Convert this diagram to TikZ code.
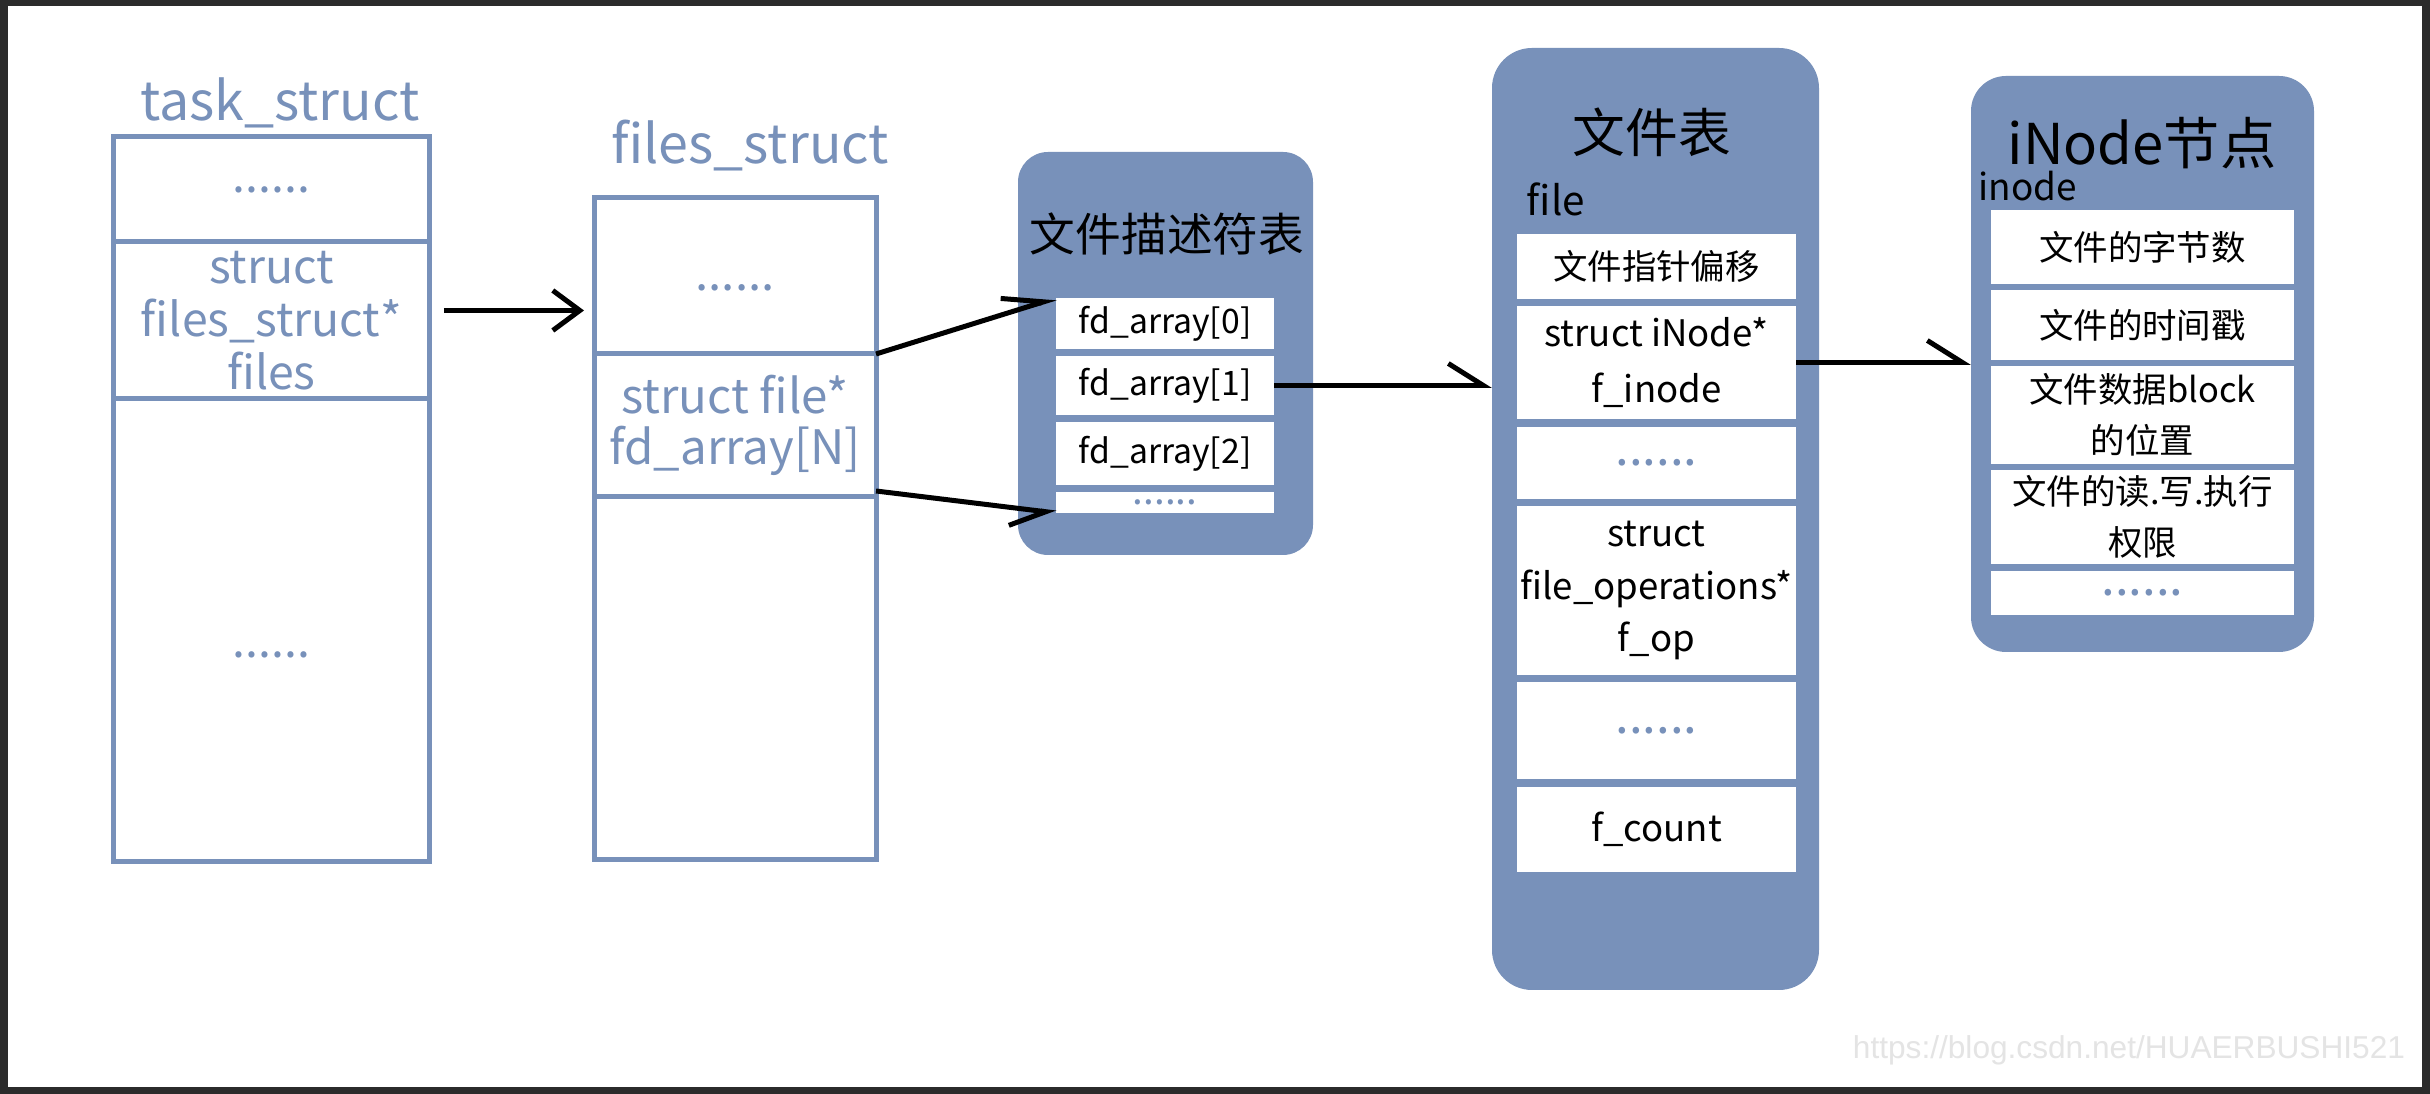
\documentclass[tikz,border=0pt]{standalone}
\usepackage{fontspec}
\setmainfont{Noto Sans CJK SC}
\newfontfamily\urlfont{Liberation Sans}
\usetikzlibrary{arrows.meta,positioning}
\definecolor{Slate}{HTML}{7891BA}
\definecolor{Frame}{HTML}{2B2B2B}
\definecolor{Mark}{HTML}{E4E4E4}
\newcommand{\fsz}[2]{\fontsize{#1pt}{#2pt}\selectfont}

\begin{document}
\begin{tikzpicture}[
  x=0.1mm,y=-0.1mm,
  every node/.style={inner sep=0pt,outer sep=0pt,align=center},
  heading/.style={text=Slate,font=\fsz{15.3}{16}},
  rec/.style={draw=Slate,line width=0.5mm,text=Slate,minimum width=31.7mm,font=\fsz{13.2}{15}},
  frec/.style={rec,minimum width=28.2mm,font=\fsz{13.5}{14.5}},
  panel/.style={fill=Slate,rounded corners=#1,anchor=north west},
  cell/.style={fill=white,anchor=north west,font=\fsz{10.4}{16}},
  fdcell/.style={cell,minimum width=21.8mm,font=\fsz{9.6}{12}},
  filecell/.style={cell,minimum width=27.9mm},
  inocell/.style={cell,minimum width=30.3mm,font=\fsz{9.8}{14.5}},
  dots/.style={text=Slate,font=\fsz{14}{14}},
  arr/.style={line width=0.5mm,-{Straight Barb[length=2.7mm,width=4mm]}},
  arrL/.style={line width=0.5mm,-{Straight Barb[left,length=4mm,width=3.2mm]}},
  arrR/.style={line width=0.5mm,-{Straight Barb[right,length=3.5mm,width=3.6mm]}},
  arrH/.style={line width=0.5mm,-{Straight Barb[left,length=3.5mm,width=4.4mm]}}
]
% frame
\fill[Frame] (0,0) rectangle (2430,1094);
\fill[white] (8,6) rectangle (2422,1087);

% task_struct
\node[heading] (tTitle) at (280,103) {task\_struct};
\node[rec,minimum height=10.5mm,anchor=north west] (tTop) at (113,137) {......};
\node[rec,below=0pt of tTop,minimum height=15.7mm] (tMid) {struct\\files\_struct*\\files};
\node[rec,below=0pt of tMid,minimum height=46.3mm,text height=5.5mm] (tLow) {......};

% files_struct
\node[heading] (fTitle) at (750,146) {files\_struct};
\node[frec,minimum height=15.6mm,anchor=north west,text height=3mm] (fTop) at (594,198) {......};
\node[frec,below=0pt of fTop,minimum height=14.3mm] (fMid) {struct file*\\fd\_array[N]};
\node[frec,below=0pt of fMid,minimum height=36.3mm] (fLow) {};

% fd table
\node[panel=3mm,minimum width=29.5mm,minimum height=40.3mm] (fdPanel) at (1018,152) {};
\node[font=\fsz{13}{14}] (fdTitle) at (1167,234) {文件描述符表};
\node[fdcell,minimum height=5.1mm] (fd0) at (1056,298) {fd\_array[0]};
\node[fdcell,below=0.7mm of fd0,minimum height=5.9mm] (fd1) {fd\_array[1]};
\node[fdcell,below=0.7mm of fd1,minimum height=6.3mm] (fd2) {fd\_array[2]};
\node[fdcell,below=0.7mm of fd2,minimum height=2.1mm,dots,font=\fsz{11}{11}] (fdDots) {......};

% file table
\node[panel=4mm,minimum width=32.7mm,minimum height=94.2mm] (filePanel) at (1492,48) {};
\node[font=\fsz{15}{16}] (fileTitle) at (1652,132) {文件表};
\node[font=\fsz{11.5}{12}] (fileTag) at (1556,199) {file};
\node[filecell,minimum height=6.5mm,font=\fsz{9.8}{12}] (fr1) at (1517,234) {文件指针偏移};
\node[filecell,below=0.7mm of fr1,minimum height=11.3mm] (fr2) {struct iNode*\\f\_inode};
\node[filecell,below=0.8mm of fr2,minimum height=7.2mm,dots] (fr3) {......};
\node[filecell,below=0.7mm of fr3,minimum height=16.9mm,font=\fsz{10.4}{15}] (fr4) {struct\\file\_operations*\\f\_op};
\node[filecell,below=0.7mm of fr4,minimum height=9.7mm,dots] (fr5) {......};
\node[filecell,below=0.8mm of fr5,minimum height=8.5mm] (fr6) {f\_count};

% inode
\node[panel=3.5mm,minimum width=34.3mm,minimum height=57.6mm] (inodePanel) at (1971,76) {};
\node[font=\fsz{16}{17}] (inodeTitle) at (2142,143) {iNode节点};
\node[font=\fsz{10.5}{11}] (inodeTag) at (2028,186) {inode};
\node[inocell,minimum height=7.4mm] (ir1) at (1991,210) {文件的字节数};
\node[inocell,below=0.6mm of ir1,minimum height=7mm] (ir2) {文件的时间戳};
\node[inocell,below=0.6mm of ir2,minimum height=9.8mm] (ir3) {文件数据block\\的位置};
\node[inocell,below=0.6mm of ir3,minimum height=9.4mm] (ir4) {文件的读.写.执行\\权限};
\node[inocell,below=0.7mm of ir4,minimum height=4.4mm,dots] (ir5) {......};

% watermark
\node[anchor=east,text=Mark,font=\urlfont\fsz{9}{10}] (mark) at (2405,1050) {https://blog.csdn.net/HUAERBUSHI521};

% pointers
\draw[arr] ([xshift=1.4mm,yshift=1mm]tMid.east) -- ([xshift=-1mm,yshift=1mm]tMid.east -| fTop.west);
\draw[arrL] (fMid.north east) -- (fd0.north west);
\draw[arrR] ([yshift=0.6mm]fMid.south east) -- (fdDots.south west);
\draw[arrH] (fd1.east) -- (fd1.east -| filePanel.west);
\draw[arrH] (fr2.east) -- (fr2.east -| inodePanel.west);
\end{tikzpicture}
\end{document}
